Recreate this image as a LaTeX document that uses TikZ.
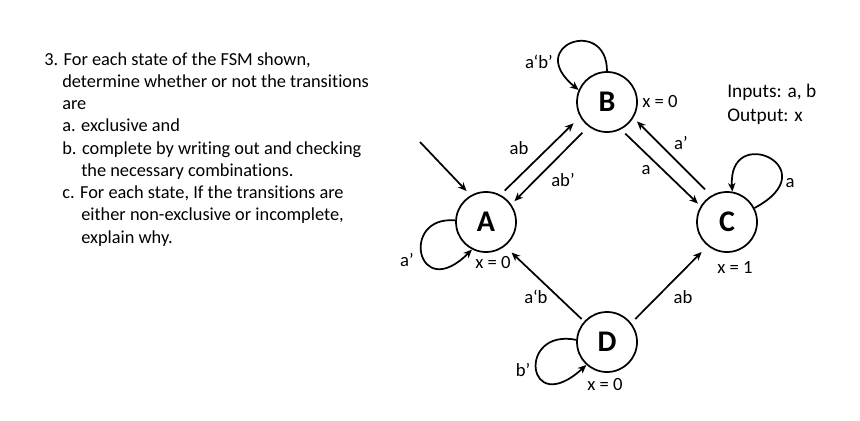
\documentclass[tikz,border=0pt]{standalone}
\usepackage{fontspec}
\setmainfont[Ligatures={TeX,NoCommon}]{Carlito}
\usetikzlibrary{arrows.meta}
\begin{document}
\begin{tikzpicture}[x=0.75pt,y=0.75pt,
 state/.style={circle,draw,line width=1.3pt,minimum size=45pt,inner sep=0pt,font=\fontsize{22.5}{22.5}\selectfont\bfseries},
 lbl/.style={font=\fontsize{14}{14}\selectfont,inner sep=0pt},
 info/.style={font=\fontsize{14.5}{14.5}\selectfont,inner sep=0pt,anchor=west},
 body/.style={font=\fontsize{13.75}{16}\selectfont,inner sep=0pt,anchor=base west},
 edge/.style={line width=1.3pt,-{Stealth[length=6.5pt,width=5.5pt,inset=2pt]}}
 ]
\useasboundingbox (0,0) rectangle (860,-421);
\fill[white] (0,0) rectangle (860,-421);
% question text
\node[body] (t1) at (44,-65) {3. For each state of the FSM shown,};
\node[body] (t2) at (62,-87.25) {determine whether or not the transitions};
\node[body] (t3) at (62,-109.5) {are};
\node[body] (t4) at (62,-131.75) {a. exclusive and};
\node[body] (t5) at (62,-154) {b. complete by writing out and checking};
\node[body] (t6) at (81,-176.25) {the necessary combinations.};
\node[body] (t7) at (62,-198.5) {c. For each state, If the transitions are};
\node[body] (t8) at (81,-220.75) {either non-exclusive or incomplete,};
\node[body] (t9) at (81,-243) {explain why.};
% states
\node[state] (A) at (486,-222) {A};
\node[state] (B) at (607,-102) {B};
\node[state] (C) at (727,-222) {C};
\node[state] (D) at (607,-342) {D};
\coordinate (init) at (420,-142);
% transitions
\draw[edge,shorten >=4.35pt] (init) -- (A.120);
\draw[edge,shorten <=4.5pt,shorten >=6.75pt] (A.62) -- (B.209);
\draw[edge,shorten <=6.5pt,shorten >=3.3pt] (B.233) -- (A.35.5);
\draw[edge,shorten <=4.4pt,shorten >=2.7pt] (B.-63) -- (C.149.6);
\draw[edge,shorten <=6.5pt,shorten >=3.75pt] (C.121) -- (B.-31);
\draw[edge,shorten <=2.5pt,shorten >=6.75pt] (D.138.7) -- (A.-52);
\draw[edge,shorten <=4.2pt,shorten >=6.3pt] (D.38) -- (C.231);
% self loops
\draw[edge] (B.90) .. controls +(0,55) and +(-55,45) .. (B.157);
\draw[edge] (A.177) .. controls +(-56,5) and +(-55,-55) .. (A.243);
\draw[edge] (D.176) .. controls +(-60,12) and +(-60,-55) .. (D.228);
\draw[edge] (C.27) .. controls +(75,40) and +(-5,70) .. (C.80);
% labels
\node[lbl] (lBB) at (539,-62) {a`b'};
\node[lbl] (xB) at (660,-102) {x = 0};
\node[lbl] (lAB) at (519,-148) {ab};
\node[lbl] (lBA) at (563,-180) {ab'};
\node[lbl] (lBC) at (646,-170) {a};
\node[lbl] (lCB) at (681,-143) {a'};
\node[lbl] (lCC) at (790,-183) {a};
\node[lbl] (xC) at (735,-267) {x = 1};
\node[lbl] (xA) at (493,-263) {x = 0};
\node[lbl] (lAA) at (407,-260) {a'};
\node[lbl] (lDA) at (536,-297) {a`b};
\node[lbl] (lDC) at (683,-297) {ab};
\node[lbl] (lDD) at (523,-370) {b'};
\node[lbl] (xD) at (605,-385) {x = 0};
\node[info] (inp) at (727,-92) {Inputs: a, b};
\node[info] (outp) at (727,-117) {Output: x};
\end{tikzpicture}
\end{document}
